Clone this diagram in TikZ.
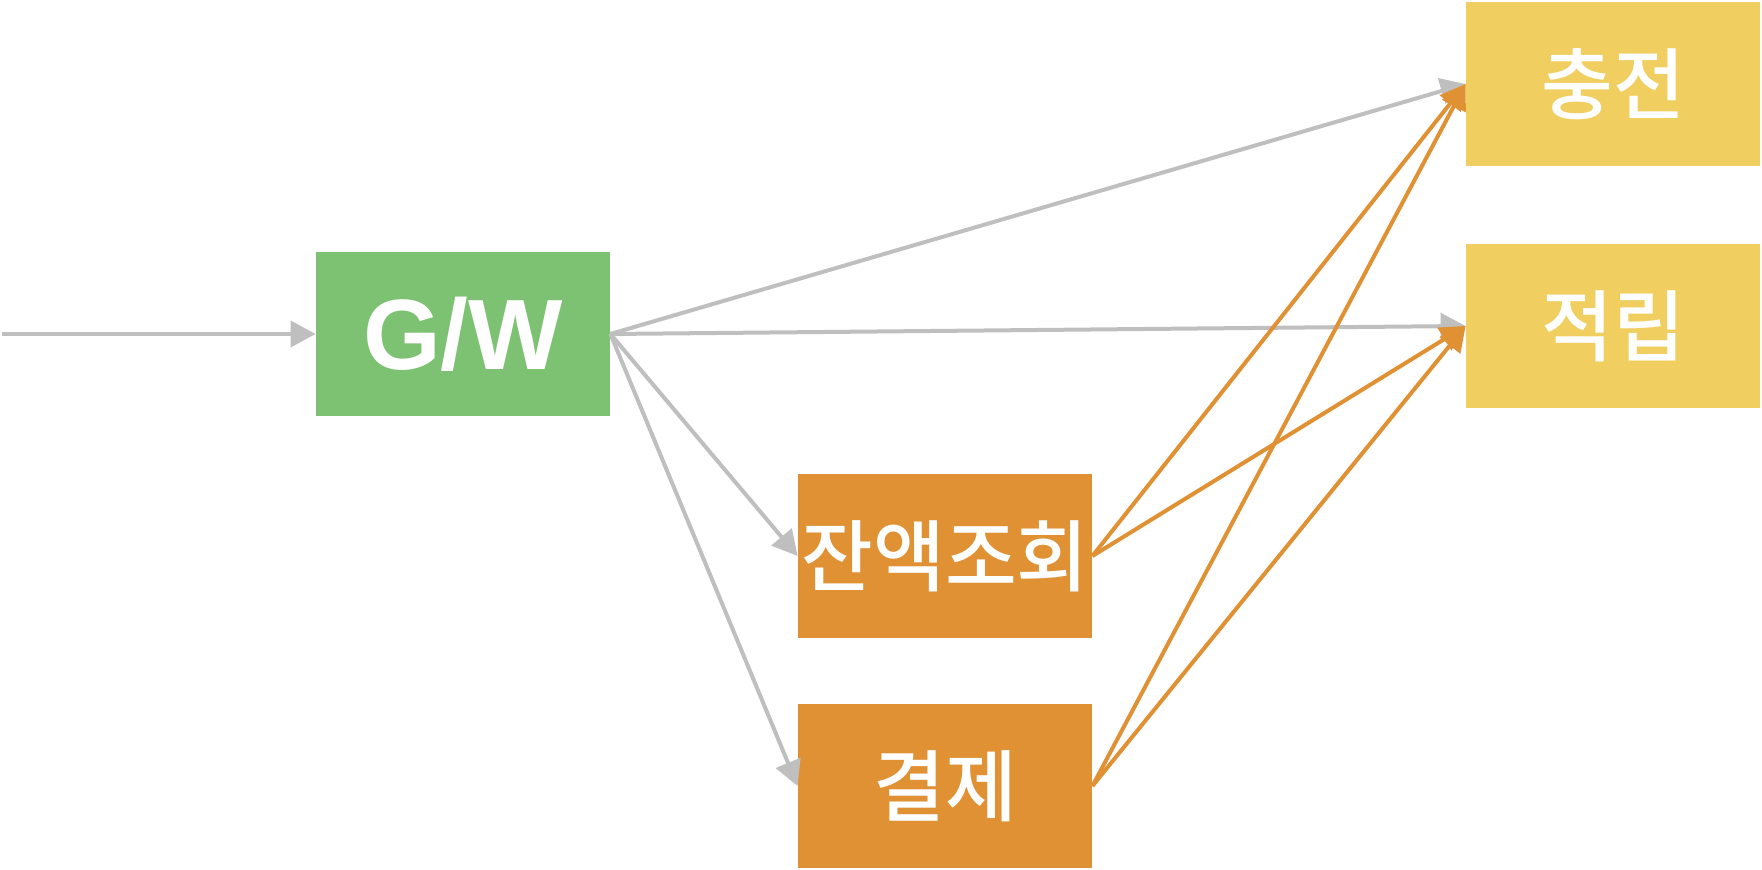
\documentclass[tikz,border=0pt]{standalone}
\usepackage{fontspec}
\setmainfont{Liberation Sans}
\newfontfamily\cjk{Noto Sans CJK KR Medium}
\usetikzlibrary{arrows.meta}
\usetikzlibrary{positioning}

\definecolor{gwgreen}{HTML}{7DC272}
\definecolor{svcorange}{HTML}{E09134}
\definecolor{ptyellow}{HTML}{F0CF60}
\definecolor{linkgray}{HTML}{BFBFBF}

\tikzset{
  box/.style={minimum width=147pt, minimum height=82pt, inner sep=0pt, text=white, font=\cjk\fontsize{39}{40}\selectfont},
  gwbox/.style={box, fill=gwgreen, font=\bfseries\fontsize{50}{50}\selectfont},
  svcbox/.style={box, fill=svcorange},
  ptbox/.style={box, fill=ptyellow},
  graylink/.style={draw=linkgray, line width=2pt, -{Triangle[length=12.5pt,width=13pt]}},
  orangelink/.style={draw=svcorange, line width=2pt, -{Triangle[length=12.5pt,width=13pt]}}
}

\begin{document}
\begin{tikzpicture}[x=0.5pt, y=-0.5pt]
\useasboundingbox (0,0) rectangle (1762,870);

\node[gwbox] (gw) at (463,334) {G/W};
\node[svcbox] (balance) at (945,556) {잔액조회};
\node[svcbox] (pay) at (945,786) {결제};
\node[ptbox] (charge) at (1613,84) {충전};
\node[ptbox] (save) at (1613,326) {적립};
\coordinate (in) at (2,334);

\draw[graylink] (in) -- (gw.west);
\draw[graylink] (gw.east) -- (charge.west);
\draw[graylink] (gw.east) -- (save.west);
\draw[graylink] (gw.east) -- (balance.west);
\draw[graylink] (gw.east) -- (pay.west);

\draw[orangelink] (balance.east) -- (charge.west);
\draw[orangelink] (balance.east) -- (save.west);
\draw[orangelink] (pay.east) -- (charge.west);
\draw[orangelink] (pay.east) -- (save.west);

\end{tikzpicture}
\end{document}
